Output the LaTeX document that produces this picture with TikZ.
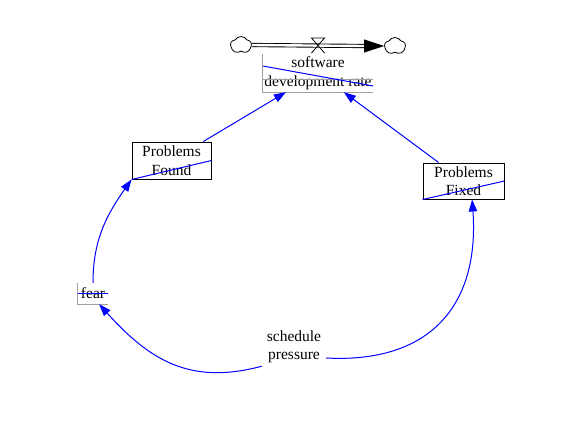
\documentclass[tikz,border=0pt]{standalone}
\usepackage{fontspec}
\setmainfont{Liberation Serif}
\usepackage{tikz}
\usetikzlibrary{arrows.meta,shapes.symbols}
\definecolor{sdblue}{HTML}{0000FF}
\definecolor{sdgray}{HTML}{A0A0A0}
\definecolor{sdink}{HTML}{000000}
\tikzset{
  txt/.style={align=center, font=\fontsize{15.5}{18.5}\selectfont, inner sep=0pt},
  lvl/.style={txt, draw=sdink, line width=1pt, minimum width=79pt, minimum height=37pt},
  aux/.style={txt},
  cld/.style={cloud, cloud puffs=5, cloud puff arc=120, aspect=1.25, draw=sdink, line width=0.8pt, minimum width=21pt, minimum height=17pt, inner sep=0pt},
  pipe/.style={draw=sdink, double=white, double distance=2.4pt, line width=0.9pt},
  pipehd/.style={-{Triangle[length=20pt,width=13pt]}, line width=0.8pt, color=sdink},
  lnk/.style={-{Triangle[length=12pt,width=8.5pt]}, line width=1pt, color=sdblue},
  ghost/.style={draw=sdgray, line width=1pt},
  strk/.style={draw=sdblue, line width=1pt},
}
\begin{document}
\begin{tikzpicture}[x=1pt,y=-1pt]
  \useasboundingbox (0,0) rectangle (567,429);
  \node[cld] (srcL) at (241,45) {};
  \node[cld] (snkR) at (395,46) {};
  \coordinate (valve) at (318,45);
  \node[aux, minimum width=110pt, minimum height=38pt] (rate) at (318,73) {software\\development rate};
  \node[lvl] (found) at (171.5,160.5) {Problems\\Found};
  \node[lvl, minimum width=81pt, minimum height=36pt] (fixed) at (463.5,181) {Problems\\Fixed};
  \node[aux, minimum width=30pt, minimum height=21pt] (fear) at (93,293.5) {fear};
  \node[aux, minimum width=64pt, minimum height=38pt] (sched) at (294,347) {schedule\\pressure};

  % flow pipe
  \draw[pipe] (srcL.east) -- ([xshift=-20pt]snkR.west);
  \draw[pipehd] ([xshift=-20pt]snkR.west) -- (snkR.west);
  \draw[line width=0.8pt] (valve) ++(6.5,8) -- ++(-13,-15) -- ++(13,0) -- ++(-13,15);

  \draw[ghost] (rate.north west) -- (rate.south west) -- (rate.south east);
  \draw[ghost] ([yshift=-6pt]rate.west) -- ([yshift=-6pt]rate.east);
  \draw[ghost] (fear.north west) -- (fear.south west) -- (fear.south east);
  \draw[strk] ([yshift=7pt]rate.west) -- ([yshift=-13pt]rate.east);
  \draw[strk] (found.south west) -- (found.east);
  \draw[strk] (fixed.south west) -- (fixed.east);
  \draw[strk] (fear.west) -- (fear.east);

  % links
  \draw[lnk] (found) -- (rate);
  \draw[lnk] (fixed) -- (rate);
  \draw[lnk] (fear.north) to[out=90,in=-125] (found.south west);
  \draw[lnk] (sched.south west) to[out=195,in=-48,looseness=1.1] (fear.-60);
  \draw[lnk] ([yshift=-11pt]sched.east) to[out=-3,in=-86,looseness=1.25] (fixed.-65);
\end{tikzpicture}
\end{document}
